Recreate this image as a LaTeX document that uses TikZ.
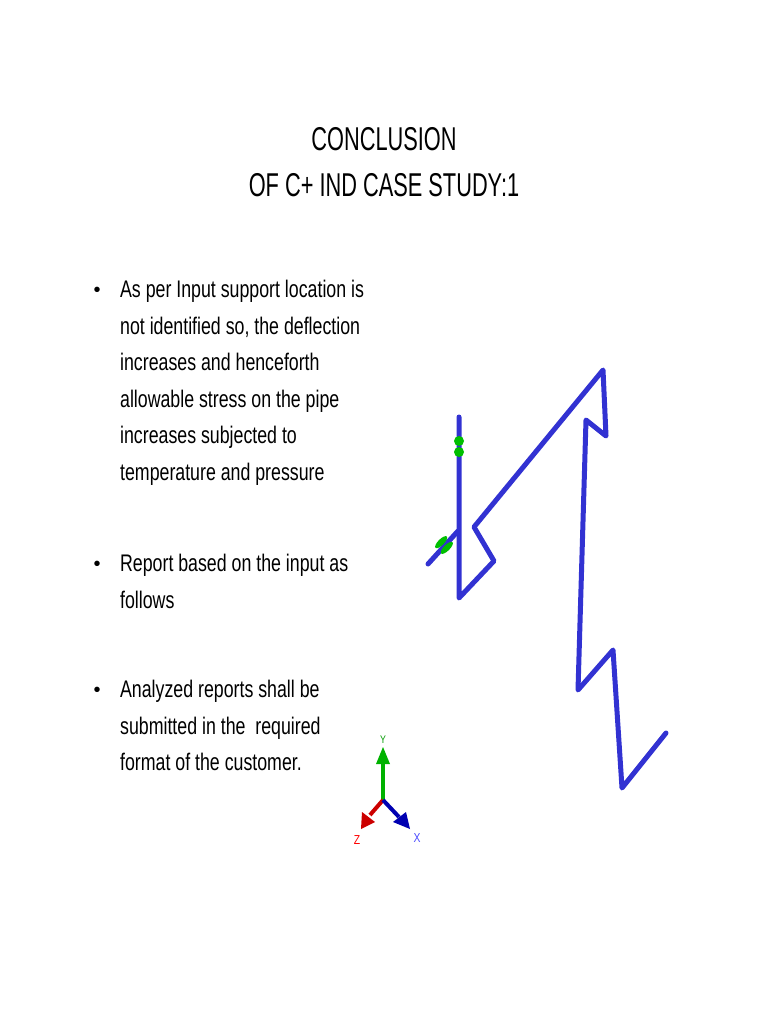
\documentclass[tikz,border=0pt]{standalone}
\usepackage{fontspec}
\setmainfont{Liberation Sans}
\begin{document}
\begin{tikzpicture}[x=1pt,y=-1pt,
  body/.style={anchor=north west,xscale=0.74,align=left,inner sep=0pt,font=\fontsize{24}{36.5}\selectfont},
  bul/.style={anchor=center,inner sep=0pt,font=\fontsize{20}{20}\selectfont},
  pipe/.style={line width=5pt,draw={rgb,255:red,50;green,50;blue,210},line join=round,line cap=round}]
\useasboundingbox (0,0) rectangle (768,1024);
\node[xscale=0.66,font=\fontsize{33}{46}\selectfont,align=center,anchor=north] (title) at (384,124) {CONCLUSION\\OF C+ IND CASE STUDY:1};
\node[bul] (b1) at (97,292) {•};
\node[body] (t1) at (120,280) {As per Input support location is\\not identified so, the deflection\\increases and henceforth\\allowable stress on the pipe\\increases subjected to\\temperature and pressure};
\node[bul] (b2) at (97,566) {•};
\node[body] (t2) at (120,554) {Report based on the input as\\follows};
\node[bul] (b3) at (97,692) {•};
\node[body] (t3) at (120,680) {Analyzed reports shall be\\submitted in the\ \ required\\format of the customer.};
% pipe
\draw[pipe] (459,417) -- (459,598) -- (494,561) -- (474,527) -- (603,370) -- (606,436) -- (586,420) -- (578,690) -- (613,650) -- (622,788) -- (666,733);
\draw[pipe] (428,564) -- (458,531);
\foreach \p in {(459,441),(459,452)} \fill[green!75!black] \p ellipse (5 and 5);
\fill[green!75!black,rotate around={-45:(444,545)}] (440,545) ellipse (3 and 8);
\fill[green!75!black,rotate around={-45:(444,545)}] (448,545) ellipse (3 and 8);
% axis triad
\coordinate (o) at (383,800);
\draw[green!70!black,line width=4pt] (o) -- (383,760);
\fill[green!70!black] (376,764) -- (383,747) -- (390,764) -- cycle;
\node[text=green!60!black,font=\fontsize{11}{11}\selectfont,xscale=0.8] (ly) at (383,740) {Y};
\draw[red!80!black,line width=4pt] (o) -- (370,815);
\fill[red!80!black] (362,812) -- (361,829) -- (375,822) -- cycle;
\node[text=red,font=\fontsize{13}{13}\selectfont,xscale=0.8] (lz) at (357,840) {Z};
\draw[blue!70!black,line width=4pt] (o) -- (399,817);
\fill[blue!70!black] (393,822) -- (410,829) -- (406,812) -- cycle;
\node[text=blue!70,font=\fontsize{13}{13}\selectfont,xscale=0.8] (lx) at (417,838) {X};
\end{tikzpicture}
\end{document}
